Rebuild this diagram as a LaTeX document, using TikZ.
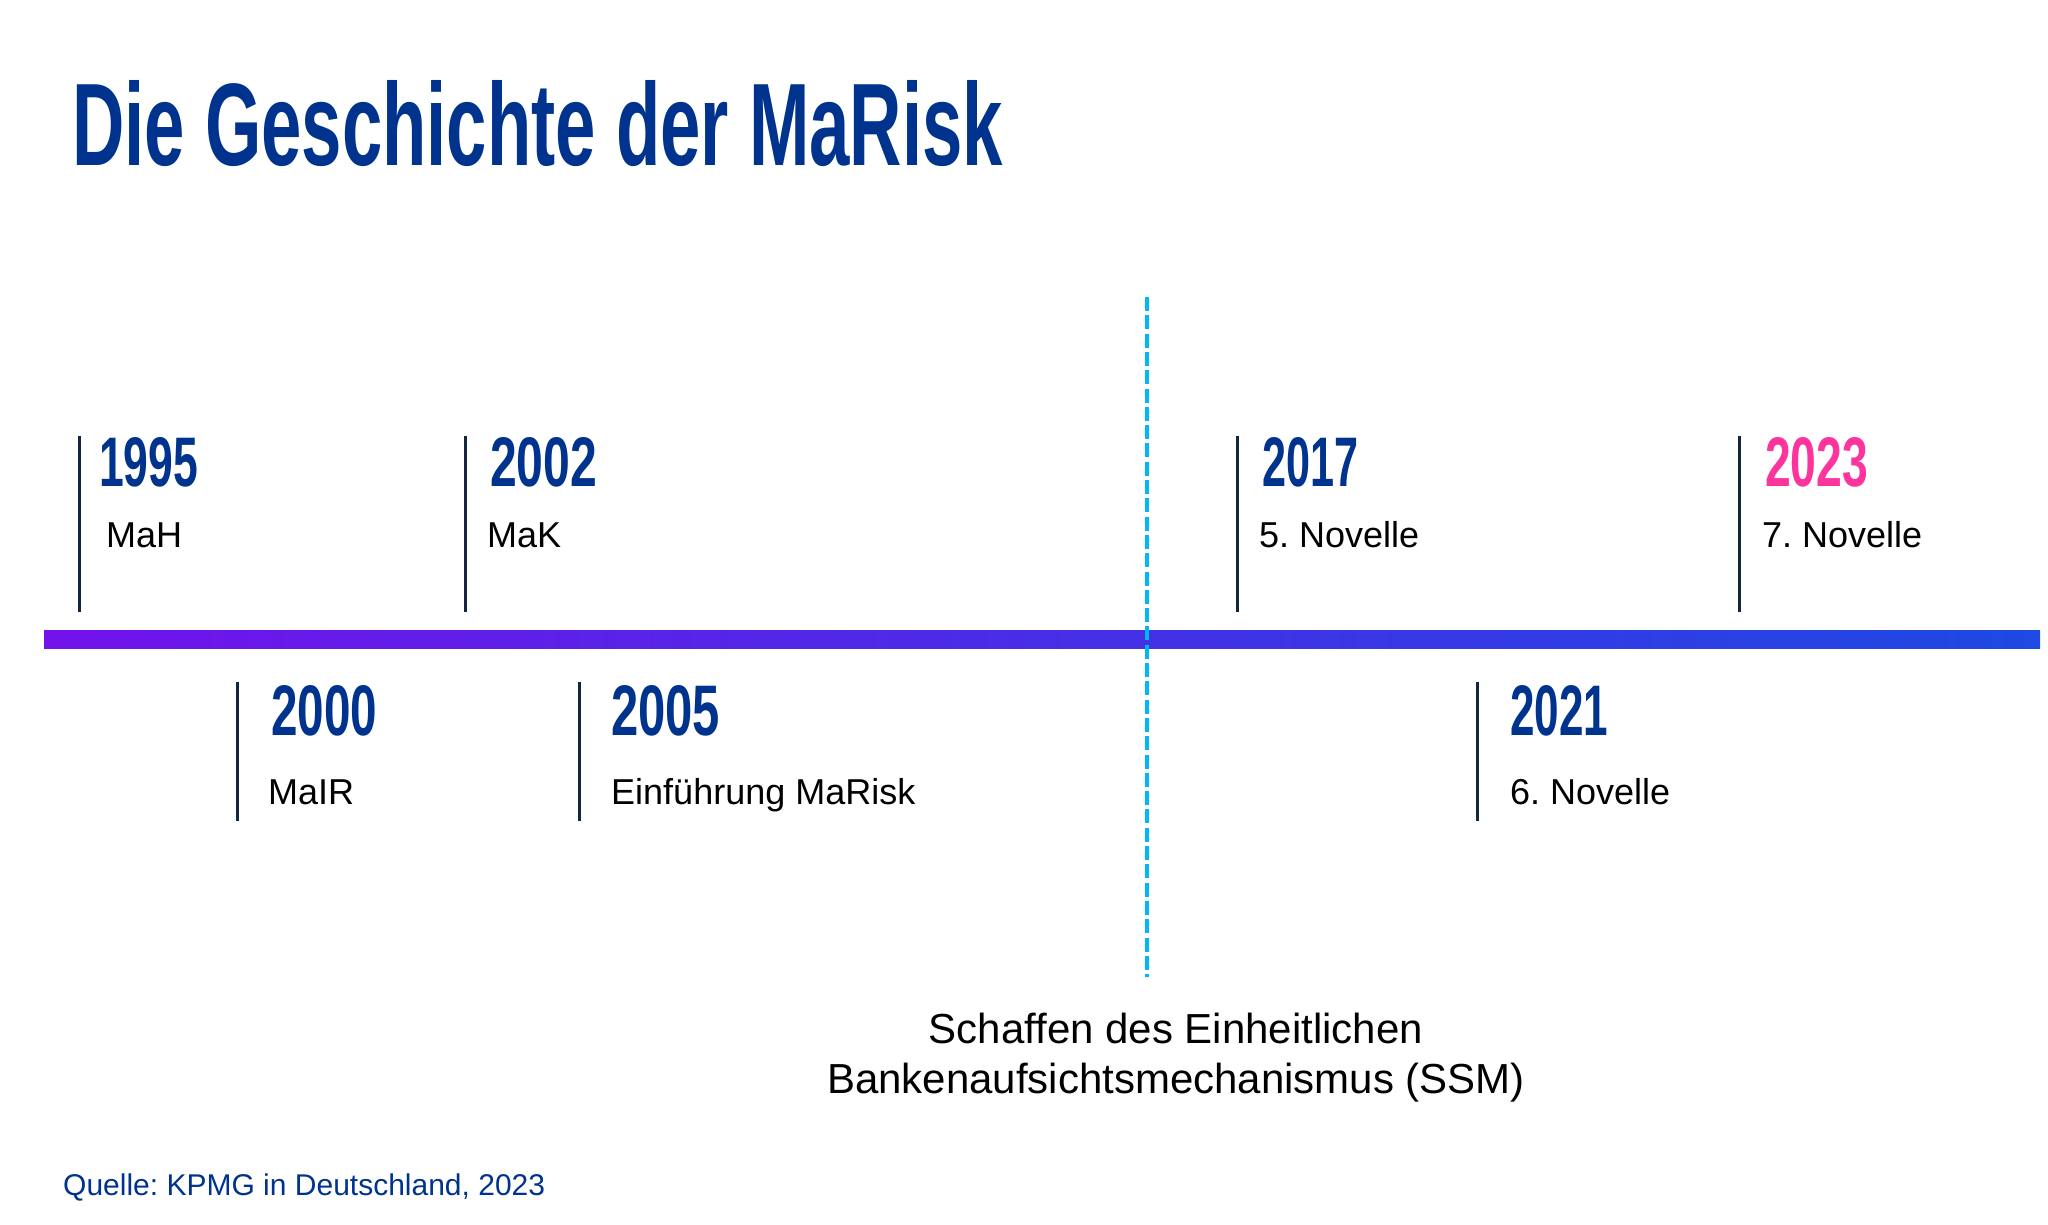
\documentclass[tikz,border=0pt]{standalone}
\usepackage{fontspec}
\setmainfont{Liberation Sans}
\usepackage{graphicx}
\frenchspacing
\definecolor{kblue}{HTML}{00338D}
\definecolor{kpink}{HTML}{FD349C}
\definecolor{tickc}{HTML}{13263F}
\definecolor{dashc}{HTML}{00B8F5}
\definecolor{barl}{HTML}{7213EA}
\definecolor{barr}{HTML}{1E49E2}
\begin{document}
\begin{tikzpicture}[x=1pt,y=-1pt,
  desc/.style={anchor=base west, inner sep=0pt, font=\fontsize{36}{43}\selectfont, text=black},
  yearlbl/.style={anchor=base west, inner sep=0pt, text=kblue},
  tickline/.style={draw=tickc, line width=3pt},
  ssmline/.style={draw=dashc, line width=4.3pt, dash pattern=on 14pt off 4.3pt}]
\useasboundingbox (0,0) rectangle (2048,1225);
% title
\node[anchor=base west, inner sep=0pt, text=kblue] (title) at (72,166)
  {\resizebox{931pt}{85pt}{\bfseries Die Geschichte der MaRisk}};
% bar
\shade[left color=barl, right color=barr] (44,630) rectangle (2040,648);
% dashed SSM line
\coordinate (ssmtop) at (1147,297);
\coordinate (ssmbot) at (1147,977);
\draw[ssmline] (ssmtop) -- (ssmbot);
% ticks upper
\foreach \x/\n in {79/a,465/b,1237/c,1739/d}{
  \coordinate (t\n1) at (\x,436);
  \coordinate (t\n2) at (\x,612);
  \draw[tickline] (t\n1) -- (t\n2);
}
% ticks lower
\foreach \x/\n in {237/e,579/f,1477/g}{
  \coordinate (t\n1) at (\x,682);
  \coordinate (t\n2) at (\x,821);
  \draw[tickline] (t\n1) -- (t\n2);
}
% years upper
\node[yearlbl] (y1995) at (99,486) {\resizebox{99pt}{49pt}{\bfseries 1995}};
\node[yearlbl] (y2002) at (490,486) {\resizebox{107pt}{49pt}{\bfseries 2002}};
\node[yearlbl] (y2017) at (1262,486) {\resizebox{96pt}{49pt}{\bfseries 2017}};
\node[yearlbl, text=kpink] (y2023) at (1765,486) {\resizebox{103pt}{49pt}{\bfseries 2023}};
% years lower
\node[yearlbl] (y2000) at (271,735) {\resizebox{106pt}{50pt}{\bfseries 2000}};
\node[yearlbl] (y2005) at (611,735) {\resizebox{109pt}{50pt}{\bfseries 2005}};
\node[yearlbl] (y2021) at (1510,735) {\resizebox{98pt}{50pt}{\bfseries 2021}};
% descriptions upper
\node[desc] (dmah) at (106,547) {MaH};
\node[desc] (dmak) at (487,547) {MaK};
\node[desc] (d5) at (1259,547) {5. Novelle};
\node[desc] (d7) at (1762,547) {7. Novelle};
% descriptions lower
\node[desc] (dmair) at (268,804) {MaIR};
\node[desc] (dein) at (611,804) {Einführung MaRisk};
\node[desc] (d6) at (1510,804) {6. Novelle};
% SSM text
\node[anchor=base, inner sep=0pt, font=\fontsize{42}{50}\selectfont] (ssm1) at (1176,1043) {Schaffen des Einheitlichen};
\node[anchor=base, inner sep=0pt, font=\fontsize{42}{50}\selectfont] (ssm2) at (1176,1093) {Bankenaufsichtsmechanismus (SSM)};
% source
\node[anchor=base west, inner sep=0pt, text=kblue, font=\fontsize{30}{36}\selectfont] (src) at (63,1195) {Quelle: KPMG in Deutschland, 2023};
\end{tikzpicture}
\end{document}
